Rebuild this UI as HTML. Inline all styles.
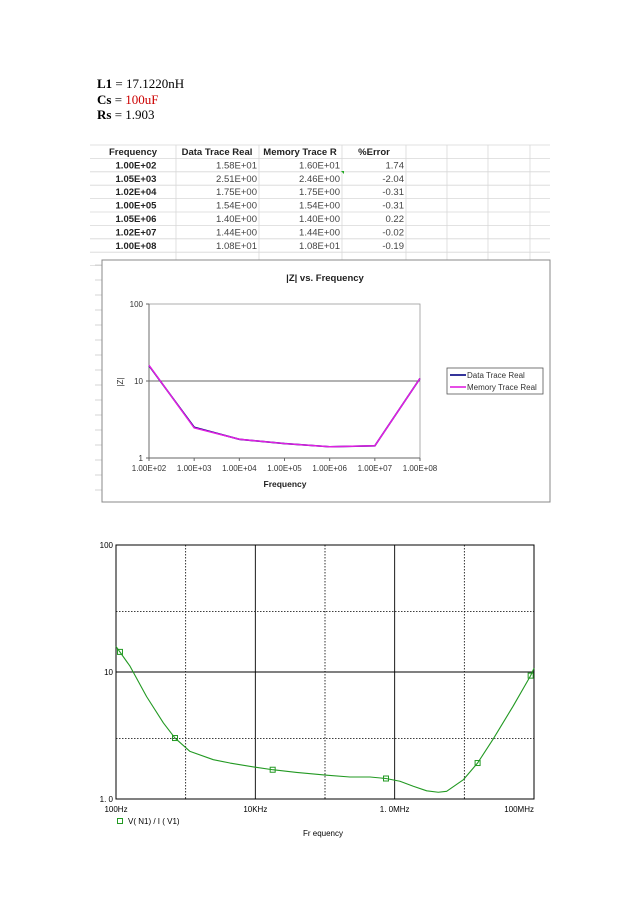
<!DOCTYPE html>
<html><head><meta charset="utf-8">
<style>
body{margin:0;background:#fff;width:638px;height:903px;overflow:hidden;position:relative;font-family:"Liberation Sans",sans-serif}
.hdr{position:absolute;left:97px;font-family:"Liberation Serif",serif;font-size:13px;color:#000}
svg{position:absolute;left:0;top:0}
</style></head>
<body>
<div class="hdr" style="top:76px"><b>L1</b> = 17.1220nH</div>
<div class="hdr" style="top:92px"><b>Cs</b> = <span style="color:#c00">100uF</span></div>
<div class="hdr" style="top:107px"><b>Rs</b> = 1.903</div>

<svg width="638" height="903" id="main"></svg>

<script>
// ---------- Table / Excel chart data ----------
const tblFreq = ["1.00E+02","1.05E+03","1.02E+04","1.00E+05","1.05E+06","1.02E+07","1.00E+08"];
const tblData = ["1.58E+01","2.51E+00","1.75E+00","1.54E+00","1.40E+00","1.44E+00","1.08E+01"];
const tblMem  = ["1.60E+01","2.46E+00","1.75E+00","1.54E+00","1.40E+00","1.44E+00","1.08E+01"];
const tblErr  = ["1.74","-2.04","-0.31","-0.31","0.22","-0.02","-0.19"];
const xlCats = ["1.00E+02","1.00E+03","1.00E+04","1.00E+05","1.00E+06","1.00E+07","1.00E+08"];
const xlData = [15.8,2.51,1.75,1.54,1.40,1.44,10.8];
const xlMem  = [16.0,2.46,1.75,1.54,1.40,1.44,10.8];
const xlYTicks = [1,10,100];
// ---------- PSpice chart data ----------
const psFreq = [100,159,275,479,703,1153,2495,4325,10000,17740,39200,105700,228000,443000,751000,1190000,1850000,2880000,4230000,5570000,9700000,15500000,26000000,50000000,89500000,100000000];
const psVal  = [15.9,11.1,6.4,3.97,3.02,2.37,2.04,1.92,1.78,1.70,1.62,1.54,1.49,1.49,1.45,1.38,1.26,1.16,1.13,1.15,1.42,1.92,2.97,5.37,9.36,10.7];
const psMarkF = [114,703,17740,751000,15500000,89500000];
const psMarkV = [14.4,3.02,1.70,1.45,1.92,9.36];
const psXTicks = ["100Hz","10KHz","1. 0MHz","100MHz"];
const psXTickF = [1e2,1e4,1e6,1e8];
const psYTicks = ["1. 0","10","100"];
const psYTickV = [1,10,100];

const NS="http://www.w3.org/2000/svg";
const svg=document.getElementById('main');
function mk(tag,attrs,parent,name,inter){
  const e=document.createElementNS(NS,tag);
  for(const k in attrs)e.setAttribute(k,attrs[k]);
  (parent||svg).appendChild(e);
  
  
  return e;
}
function txt(x,y,s,attrs,name){const t=mk('text',Object.assign({x:x,y:y},attrs||{}),svg,name);t.textContent=s;return t;}

// ---------- spreadsheet grid ----------
const colX=[90,176,259,342,406,447,488,530,550];
const rowTop=145,rowH=13.4,nRows=9;
for(let r=0;r<=nRows;r++){
  const l=mk('line',{x1:90,x2:550,y1:rowTop+r*rowH,y2:rowTop+r*rowH,stroke:'#d8d8d8','stroke-width':0.8});
  
}
for(let c=1;c<colX.length-1;c++){
  const l=mk('line',{x1:colX[c],x2:colX[c],y1:rowTop,y2:rowTop+nRows*rowH,stroke:'#d8d8d8','stroke-width':0.8});
  
}
const hs={'font-size':9.5,'font-weight':'bold',fill:'#222'};
txt(133,rowTop+10,'Frequency',Object.assign({'text-anchor':'middle'},hs),'header-frequency');
txt(217,rowTop+10,'Data Trace Real',Object.assign({'text-anchor':'middle'},hs),'header-data-trace');
txt(300,rowTop+10,'Memory Trace R',Object.assign({'text-anchor':'middle'},hs),'header-memory-trace');
txt(374,rowTop+10,'%Error',Object.assign({'text-anchor':'middle'},hs),'header-error');
for(let i=0;i<tblFreq.length;i++){
  const y=rowTop+(i+1)*rowH+10;
  txt(136,y,tblFreq[i],{'font-size':9.5,'font-weight':'bold','text-anchor':'middle',fill:'#222'},'cell-frequency');
  txt(257,y,tblData[i],{'font-size':9.5,'text-anchor':'end',fill:'#444'},'cell-data');
  txt(340,y,tblMem[i],{'font-size':9.5,'text-anchor':'end',fill:'#444'},'cell-memory');
  txt(404,y,tblErr[i],{'font-size':9.5,'text-anchor':'end',fill:'#444'},'cell-error');
}
mk('path',{d:'M341 171 l3 0 l0 3 z',fill:'#2a2'},svg,'comment-indicator');

// ---------- Excel chart ----------
for(let k=0;k<16;k++){
  const l=mk('line',{x1:95,x2:102,y1:265+k*15,y2:265+k*15,stroke:'#ccc','stroke-width':0.8});
  
}
mk('rect',{x:102,y:260,width:448,height:242,fill:'#fff',stroke:'#888','stroke-width':1},svg,'excel-chart-border');
const xp={l:149,r:420,t:304,b:458};
const xlX=i=>xp.l+i*(xp.r-xp.l)/(xlCats.length-1);
const xlY=v=>xp.b-(Math.log10(v)-0)/2*(xp.b-xp.t);
mk('rect',{x:xp.l,y:xp.t,width:xp.r-xp.l,height:xp.b-xp.t,fill:'#fff',stroke:'#999','stroke-width':0.8},svg,'excel-plot-area');
mk('line',{x1:xp.l,x2:xp.r,y1:xlY(10),y2:xlY(10),stroke:'#666','stroke-width':0.9},svg,'excel-gridline-10');
mk('line',{x1:xp.l,x2:xp.l,y1:xp.t,y2:xp.b,stroke:'#666','stroke-width':0.9},svg,'excel-y-axis');
mk('line',{x1:xp.l,x2:xp.r,y1:xp.b,y2:xp.b,stroke:'#666','stroke-width':0.9},svg,'excel-x-axis');
xlYTicks.forEach(v=>{
  const y=xlY(v);
  mk('line',{x1:xp.l-3,x2:xp.l,y1:y,y2:y,stroke:'#666'},svg,'excel-y-tick');
  txt(xp.l-6,y+3,String(v),{'font-size':8,'text-anchor':'end',fill:'#333'},'excel-y-tick-label');
});
xlCats.forEach((c,i)=>{
  const x=xlX(i);
  mk('line',{x1:x,x2:x,y1:xp.b,y2:xp.b+3,stroke:'#666'},svg,'excel-x-tick');
  txt(x,xp.b+13,c,{'font-size':8,'text-anchor':'middle',fill:'#333'},'excel-x-tick-label');
});
txt(325,281,'|Z| vs. Frequency',{'font-size':9.5,'font-weight':'bold','text-anchor':'middle',fill:'#222'},'excel-chart-title');
txt(285,487,'Frequency',{'font-size':8.5,'font-weight':'bold','text-anchor':'middle',fill:'#222'},'excel-x-axis-title');
txt(123,382,'|Z|',{'font-size':8,'text-anchor':'middle',fill:'#333',transform:'rotate(-90 123 382)'},'excel-y-axis-title');
mk('polyline',{points:xlData.map((v,i)=>xlX(i)+','+xlY(v)).join(' '),fill:'none',stroke:'#000080','stroke-width':1.6},svg,'series-data-trace-real');
mk('polyline',{points:xlMem.map((v,i)=>xlX(i)+','+xlY(v)).join(' '),fill:'none',stroke:'#e020e0','stroke-width':1.5},svg,'series-memory-trace-real');
mk('rect',{x:447,y:368,width:96,height:26,fill:'#fff',stroke:'#555','stroke-width':0.8},svg,'excel-legend');
mk('line',{x1:450,x2:466,y1:375,y2:375,stroke:'#000080','stroke-width':1.6},svg,'legend-swatch-data');
txt(467,378,'Data Trace Real',{'font-size':8,fill:'#333'},'legend-entry-data');
mk('line',{x1:450,x2:466,y1:387,y2:387,stroke:'#e020e0','stroke-width':1.6},svg,'legend-swatch-memory');
txt(467,390,'Memory Trace Real',{'font-size':8,fill:'#333'},'legend-entry-memory');

// ---------- PSpice chart ----------
const pp={l:116,r:534,t:545,b:799};
const psX=f=>pp.l+(Math.log10(f)-2)/6*(pp.r-pp.l);
const psY=v=>pp.b-Math.log10(v)/2*(pp.b-pp.t);
[1e3,1e5,1e7].forEach(f=>mk('line',{x1:psX(f),x2:psX(f),y1:pp.t,y2:pp.b,stroke:'#000','stroke-width':0.8,'stroke-dasharray':'1.5,1.5'},svg,'ps-minor-gridline-x'));
[3,30].forEach(v=>mk('line',{x1:pp.l,x2:pp.r,y1:psY(v),y2:psY(v),stroke:'#000','stroke-width':0.8,'stroke-dasharray':'1.5,1.5'},svg,'ps-minor-gridline-y'));
[1e4,1e6].forEach(f=>mk('line',{x1:psX(f),x2:psX(f),y1:pp.t,y2:pp.b,stroke:'#000','stroke-width':0.9},svg,'ps-major-gridline-x'));
mk('line',{x1:pp.l,x2:pp.r,y1:psY(10),y2:psY(10),stroke:'#000','stroke-width':0.9},svg,'ps-major-gridline-y');
mk('rect',{x:pp.l,y:pp.t,width:pp.r-pp.l,height:pp.b-pp.t,fill:'none',stroke:'#000','stroke-width':1},svg,'ps-plot-border');
psYTickV.forEach((v,i)=>txt(pp.l-3,psY(v)+3,psYTicks[i],{'font-size':8,'text-anchor':'end',fill:'#000'},'ps-y-tick-label'));
psXTickF.forEach((f,i)=>txt(psX(f),pp.b+13,psXTicks[i],{'font-size':8,'text-anchor':i==3?'end':'middle',fill:'#000'},'ps-x-tick-label'));
mk('polyline',{points:psFreq.map((f,i)=>psX(f)+','+psY(psVal[i])).join(' '),fill:'none',stroke:'#229922','stroke-width':1.1,'stroke-linejoin':'round'},svg,'ps-impedance-curve');
psMarkF.forEach((f,i)=>mk('rect',{x:psX(f)-2.5,y:psY(psMarkV[i])-2.5,width:5,height:5,fill:'none',stroke:'#229922','stroke-width':1},svg,'ps-marker'));
mk('rect',{x:117.5,y:818.5,width:5,height:5,fill:'none',stroke:'#229922','stroke-width':1},svg,'ps-legend-marker');
txt(128,824,'V( N1) / I ( V1)',{'font-size':8,fill:'#000'},'ps-legend-entry');
txt(323,836,'Fr equency',{'font-size':8,'text-anchor':'middle',fill:'#000'},'ps-x-axis-title');
</script>
</body></html>
